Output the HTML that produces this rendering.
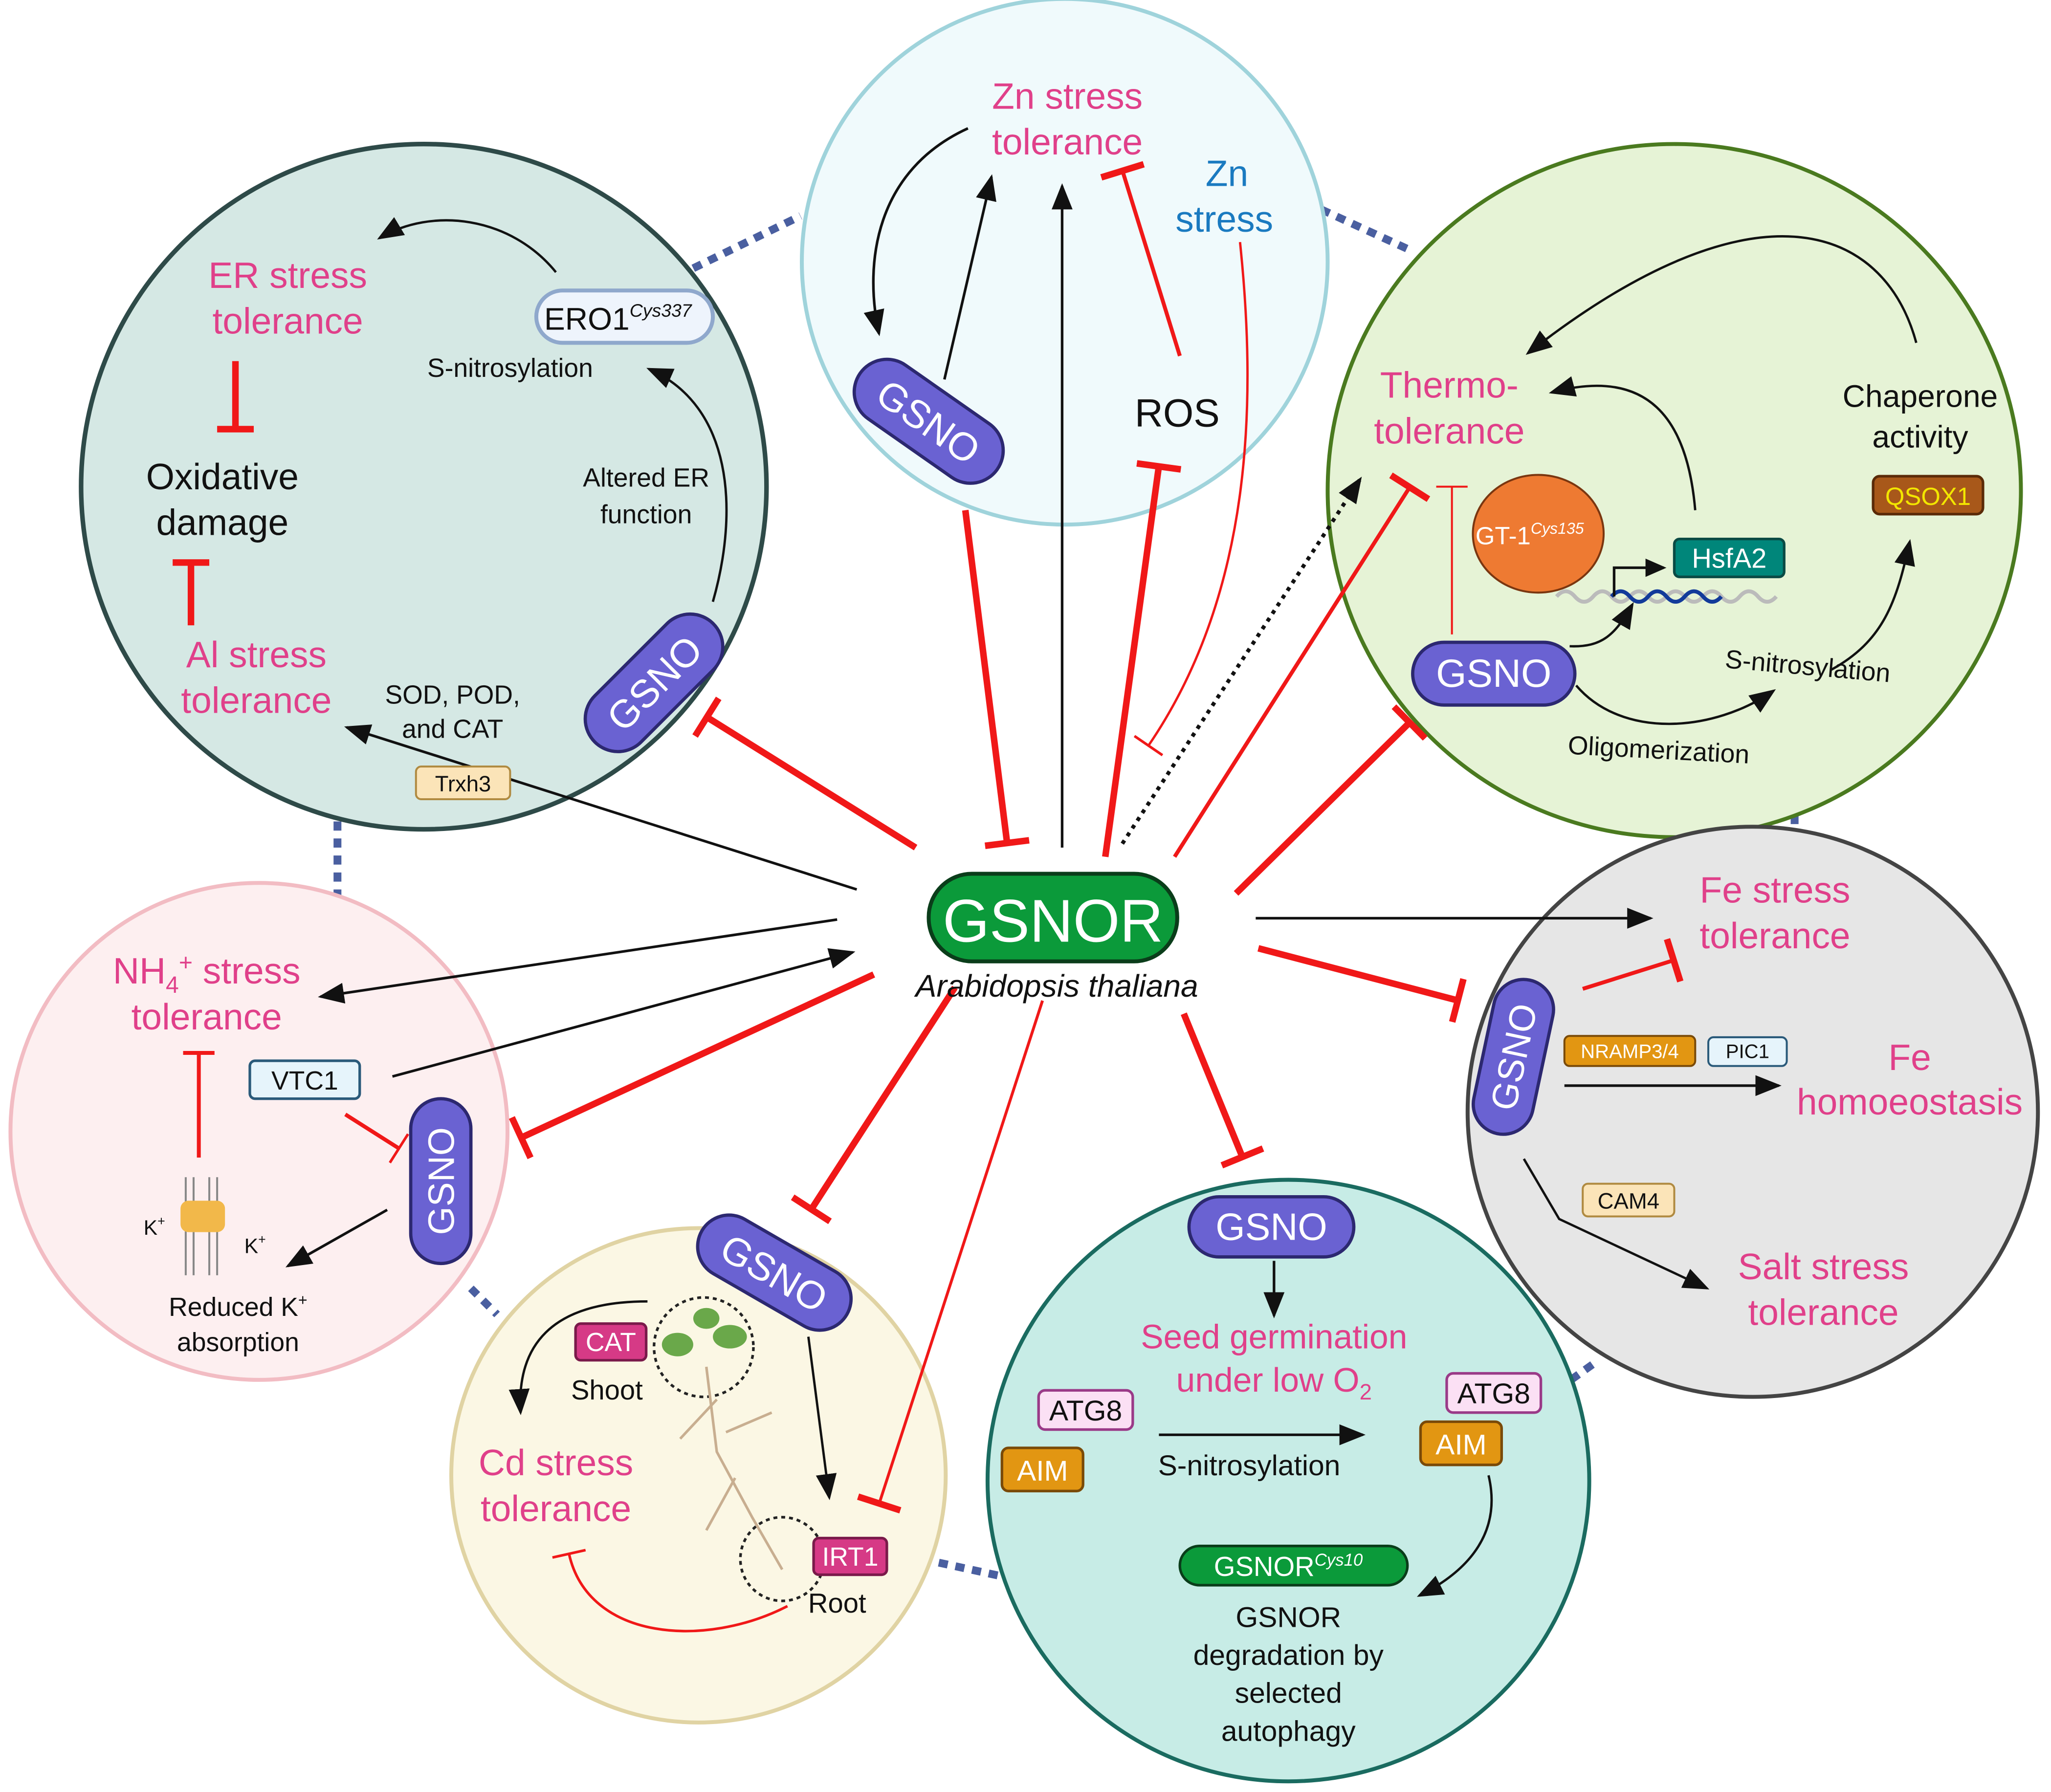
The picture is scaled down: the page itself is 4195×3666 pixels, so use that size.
<!DOCTYPE html>
<html><head><meta charset="utf-8"><style>
html,body{margin:0;padding:0;background:#fff}
svg{display:block}
text{font-family:"Liberation Sans",sans-serif}
.pk{fill:#e0408a}
.bl{fill:#111}
</style></head><body>
<svg width="4195" height="3666" viewBox="0 0 1568 1370" xmlns="http://www.w3.org/2000/svg">
<defs>
<marker id="ar" markerUnits="userSpaceOnUse" markerWidth="24" markerHeight="24" refX="18" refY="10" orient="auto"><path d="M0,2 L20,10 L0,18 Z" fill="#111"/></marker>
<marker id="arS" markerUnits="userSpaceOnUse" markerWidth="20" markerHeight="20" refX="14" refY="8" orient="auto"><path d="M0,1 L16,8 L0,15 Z" fill="#111"/></marker>
<marker id="bar" markerUnits="userSpaceOnUse" markerWidth="10" markerHeight="34" refX="5" refY="17" orient="auto"><rect x="2" y="0" width="5" height="34" fill="#f01818"/></marker>
<marker id="barT" markerUnits="userSpaceOnUse" markerWidth="6" markerHeight="26" refX="3" refY="13" orient="auto"><rect x="2" y="0" width="2" height="26" fill="#f01818"/></marker>
</defs>

<!-- dotted connectors -->
<g stroke="#4a5fa0" stroke-width="6" stroke-dasharray="7,6" fill="none">
<line x1="530" y1="205" x2="612" y2="165"/>
<line x1="1010" y1="160" x2="1080" y2="192"/>
<line x1="258" y1="628" x2="258" y2="686"/>
<line x1="1372" y1="610" x2="1372" y2="632"/>
<line x1="360" y1="985" x2="380" y2="1005"/>
<line x1="1180" y1="1070" x2="1222" y2="1040"/>
<line x1="705" y1="1192" x2="765" y2="1205"/>
</g>

<!-- circles -->
<circle cx="324" cy="372" r="262" fill="#d5e8e4" stroke="#2e4a48" stroke-width="3.5"/>
<circle cx="814" cy="200" r="201" fill="#f0fafc" stroke="#9fd3db" stroke-width="3"/>
<circle cx="1280" cy="375" r="265" fill="#e6f3d6" stroke="#4a7a1f" stroke-width="3"/>
<circle cx="1340" cy="850" r="218" fill="#e6e6e6" stroke="#444" stroke-width="3"/>
<circle cx="985" cy="1132" r="230" fill="#c7ece6" stroke="#1a6b60" stroke-width="3"/>
<circle cx="534" cy="1128" r="189" fill="#fbf7e4" stroke="#e0d3a3" stroke-width="3"/>
<circle cx="198" cy="865" r="190" fill="#fdeff0" stroke="#f2bcc3" stroke-width="3"/>

<!-- central connectors -->
<g fill="none">
<line x1="812" y1="648" x2="812" y2="142" stroke="#111" stroke-width="2" marker-end="url(#ar)"/>
<line x1="738" y1="390" x2="770" y2="645" stroke="#f01818" stroke-width="5" marker-end="url(#bar)"/>
<line x1="845" y1="655" x2="886" y2="356" stroke="#f01818" stroke-width="5" marker-end="url(#bar)"/>
<path d="M948,185 C960,300 960,450 878,570" stroke="#f01818" stroke-width="1.8" marker-end="url(#barT)"/>
<line x1="858" y1="645" x2="1040" y2="366" stroke="#111" stroke-width="3" stroke-dasharray="3,4" marker-end="url(#ar)"/>
<line x1="898" y1="655" x2="1078" y2="372" stroke="#f01818" stroke-width="3" marker-end="url(#bar)"/>
<line x1="945" y1="683" x2="1078" y2="552" stroke="#f01818" stroke-width="5" marker-end="url(#bar)"/>
<line x1="960" y1="702" x2="1262" y2="702" stroke="#111" stroke-width="2" marker-end="url(#ar)"/>
<line x1="962" y1="725" x2="1115" y2="765" stroke="#f01818" stroke-width="5" marker-end="url(#bar)"/>
<line x1="905" y1="775" x2="950" y2="885" stroke="#f01818" stroke-width="5" marker-end="url(#bar)"/>
<line x1="797" y1="765" x2="672" y2="1150" stroke="#f01818" stroke-width="2.2" marker-end="url(#bar)"/>
<line x1="730" y1="755" x2="620" y2="925" stroke="#f01818" stroke-width="5" marker-end="url(#bar)"/>
<line x1="668" y1="745" x2="398" y2="870" stroke="#f01818" stroke-width="5" marker-end="url(#bar)"/>
<line x1="640" y1="703" x2="245" y2="762" stroke="#111" stroke-width="2" marker-end="url(#ar)"/>
<line x1="300" y1="823" x2="652" y2="728" stroke="#111" stroke-width="2" marker-end="url(#ar)"/>
<line x1="655" y1="680" x2="265" y2="556" stroke="#111" stroke-width="2" marker-end="url(#ar)"/>
<line x1="700" y1="648" x2="540" y2="548" stroke="#f01818" stroke-width="5" marker-end="url(#bar)"/>
</g>

<!-- GSNOR center -->
<rect x="710" y="668" width="190" height="67" rx="33" fill="#0b9a3a" stroke="#0a3d1a" stroke-width="3"/>
<text x="805" y="720" font-size="46" fill="#fff" text-anchor="middle">GSNOR</text>
<text x="808" y="762" font-size="24" font-style="italic" fill="#111" text-anchor="middle">Arabidopsis thaliana</text>

<!-- Zn circle -->
<text x="816" y="83" font-size="28" class="pk" text-anchor="middle">Zn stress</text>
<text x="816" y="118" font-size="28" class="pk" text-anchor="middle">tolerance</text>
<text x="938" y="142" font-size="28" fill="#1a7ac0" text-anchor="middle">Zn</text>
<text x="936" y="177" font-size="28" fill="#1a7ac0" text-anchor="middle">stress</text>
<text x="900" y="326" font-size="30" fill="#111" text-anchor="middle">ROS</text>
<path d="M740,98 C670,130 660,200 672,255" fill="none" stroke="#111" stroke-width="2" marker-end="url(#ar)"/>
<line x1="722" y1="290" x2="758" y2="135" stroke="#111" stroke-width="2" marker-end="url(#ar)"/>
<line x1="902" y1="272" x2="858" y2="130" stroke="#f01818" stroke-width="3" marker-end="url(#bar)"/>
<g transform="translate(710,322) rotate(35)"><rect x="-64" y="-25" width="128" height="50" rx="25" fill="#6a62d2" stroke="#2c2870" stroke-width="2.5"/><text x="0" y="11" font-size="30" fill="#fff" text-anchor="middle">GSNO</text></g>

<!-- ER circle -->
<text x="220" y="220" font-size="28" class="pk" text-anchor="middle">ER stress</text>
<text x="220" y="255" font-size="28" class="pk" text-anchor="middle">tolerance</text>
<text x="170" y="374" font-size="28" fill="#111" text-anchor="middle">Oxidative</text>
<text x="170" y="409" font-size="28" fill="#111" text-anchor="middle">damage</text>
<text x="196" y="510" font-size="28" class="pk" text-anchor="middle">Al stress</text>
<text x="196" y="545" font-size="28" class="pk" text-anchor="middle">tolerance</text>
<line x1="180" y1="276" x2="180" y2="328" stroke="#f01818" stroke-width="5"/><line x1="166" y1="328" x2="194" y2="328" stroke="#f01818" stroke-width="5"/>
<line x1="146" y1="478" x2="146" y2="430" stroke="#f01818" stroke-width="5"/><line x1="132" y1="430" x2="160" y2="430" stroke="#f01818" stroke-width="5"/>
<rect x="410" y="222" width="135" height="40" rx="20" fill="#eef4fc" stroke="#8fa8cc" stroke-width="3"/>
<text x="416" y="252" font-size="24" fill="#111">ERO1<tspan font-size="14" font-style="italic" dy="-10">Cys337</tspan></text>
<text x="390" y="288" font-size="20" fill="#111" text-anchor="middle">S-nitrosylation</text>
<text x="494" y="372" font-size="20" fill="#111" text-anchor="middle">Altered ER</text>
<text x="494" y="400" font-size="20" fill="#111" text-anchor="middle">function</text>
<text x="346" y="538" font-size="20" fill="#111" text-anchor="middle">SOD, POD,</text>
<text x="346" y="564" font-size="20" fill="#111" text-anchor="middle">and CAT</text>
<rect x="318" y="586" width="72" height="25" rx="4" fill="#fbe4b8" stroke="#b08a40" stroke-width="1.5"/>
<text x="354" y="605" font-size="17" fill="#111" text-anchor="middle">Trxh3</text>
<path d="M425,208 C390,165 330,158 290,182" fill="none" stroke="#111" stroke-width="1.8" marker-end="url(#ar)"/>
<path d="M545,460 C565,390 560,310 496,282" fill="none" stroke="#111" stroke-width="1.8" marker-end="url(#ar)"/>
<g transform="translate(500,522) rotate(-45)"><rect x="-64" y="-25" width="128" height="50" rx="25" fill="#6a62d2" stroke="#2c2870" stroke-width="2.5"/><text x="0" y="11" font-size="30" fill="#fff" text-anchor="middle">GSNO</text></g>

<!-- Thermo circle -->
<text x="1108" y="304" font-size="28" class="pk" text-anchor="middle">Thermo-</text>
<text x="1108" y="339" font-size="28" class="pk" text-anchor="middle">tolerance</text>
<text x="1468" y="311" font-size="24" fill="#111" text-anchor="middle">Chaperone</text>
<text x="1468" y="342" font-size="24" fill="#111" text-anchor="middle">activity</text>
<rect x="1432" y="364" width="84" height="29" rx="5" fill="#a8581a" stroke="#5a2a08" stroke-width="2"/>
<text x="1474" y="386" font-size="19" fill="#f2e600" text-anchor="middle">QSOX1</text>
<path d="M1465,262 C1440,170 1340,135 1168,270" fill="none" stroke="#111" stroke-width="1.8" marker-end="url(#ar)"/>
<path d="M1296,390 C1290,320 1260,280 1186,300" fill="none" stroke="#111" stroke-width="1.8" marker-end="url(#ar)"/>
<line x1="1110" y1="485" x2="1110" y2="372" stroke="#f01818" stroke-width="1.5"/><line x1="1098" y1="372" x2="1122" y2="372" stroke="#f01818" stroke-width="1.5"/>
<ellipse cx="1176" cy="408" rx="50" ry="45" fill="#ee7a32" stroke="#7a3610" stroke-width="1.5"/>
<text x="1128" y="416" font-size="19" fill="#fff">GT-1<tspan font-size="12" font-style="italic" dy="-8">Cys135</tspan></text>
<rect x="1280" y="412" width="84" height="29" rx="4" fill="#00867a" stroke="#0a4a44" stroke-width="2"/>
<text x="1322" y="434" font-size="21" fill="#fff" text-anchor="middle">HsfA2</text>
<path d="M1190,456 q7,-8 14,0 t14,0 t14,0 t14,0 t14,0 t14,0 t14,0 t14,0 t14,0 t14,0 t14,0 t14,0" fill="none" stroke="#bbb" stroke-width="3"/>
<path d="M1232,456 q7,-8 14,0 t14,0 t14,0 t14,0 t14,0 t14,0" fill="none" stroke="#123a9a" stroke-width="3"/>
<path d="M1234,456 V434 H1272" fill="none" stroke="#111" stroke-width="2" marker-end="url(#arS)"/>
<rect x="1080" y="491" width="124" height="48" rx="24" fill="#6a62d2" stroke="#2c2870" stroke-width="2.5"/>
<text x="1142" y="525" font-size="30" fill="#fff" text-anchor="middle">GSNO</text>
<path d="M1200,494 C1225,495 1235,485 1248,462" fill="none" stroke="#111" stroke-width="1.8" marker-end="url(#ar)"/>
<path d="M1205,524 C1240,565 1310,560 1356,528" fill="none" stroke="#111" stroke-width="1.8" marker-end="url(#ar)"/>
<path d="M1400,512 C1440,490 1450,460 1460,414" fill="none" stroke="#111" stroke-width="1.8" marker-end="url(#ar)"/>
<text x="1382" y="516" font-size="20" fill="#111" text-anchor="middle" transform="rotate(5 1382 510)">S-nitrosylation</text>
<text x="1268" y="580" font-size="20" fill="#111" text-anchor="middle" transform="rotate(3 1268 575)">Oligomerization</text>

<!-- Fe circle -->
<text x="1357" y="690" font-size="28" class="pk" text-anchor="middle">Fe stress</text>
<text x="1357" y="725" font-size="28" class="pk" text-anchor="middle">tolerance</text>
<text x="1460" y="818" font-size="28" class="pk" text-anchor="middle">Fe</text>
<text x="1460" y="852" font-size="28" class="pk" text-anchor="middle">homoeostasis</text>
<text x="1394" y="978" font-size="28" class="pk" text-anchor="middle">Salt stress</text>
<text x="1394" y="1013" font-size="28" class="pk" text-anchor="middle">tolerance</text>
<line x1="1210" y1="756" x2="1280" y2="734" stroke="#f01818" stroke-width="3" marker-end="url(#bar)"/>
<rect x="1196" y="792" width="100" height="23" rx="4" fill="#e29612" stroke="#7a4a08" stroke-width="1.5"/>
<text x="1246" y="809" font-size="15" fill="#fff" text-anchor="middle">NRAMP3/4</text>
<rect x="1306" y="793" width="60" height="22" rx="4" fill="#e6f4fb" stroke="#2a5a7a" stroke-width="1.5"/>
<text x="1336" y="809" font-size="15" fill="#111" text-anchor="middle">PIC1</text>
<line x1="1196" y1="830" x2="1360" y2="830" stroke="#111" stroke-width="2" marker-end="url(#ar)"/>
<rect x="1210" y="905" width="70" height="25" rx="4" fill="#fbe4b8" stroke="#b08a40" stroke-width="1.5"/>
<text x="1245" y="924" font-size="17" fill="#111" text-anchor="middle">CAM4</text>
<path d="M1165,886 L1192,932 L1305,985" fill="none" stroke="#111" stroke-width="1.8" marker-end="url(#ar)"/>
<g transform="translate(1157,808) rotate(-78)"><rect x="-60" y="-23" width="120" height="46" rx="23" fill="#6a62d2" stroke="#2c2870" stroke-width="2.5"/><text x="0" y="10" font-size="28" fill="#fff" text-anchor="middle">GSNO</text></g>

<!-- NH4 circle -->
<text x="158" y="752" font-size="28" class="pk" text-anchor="middle">NH<tspan font-size="18" dy="7">4</tspan><tspan font-size="18" dy="-17">+</tspan><tspan dy="10"> stress</tspan></text>
<text x="158" y="787" font-size="28" class="pk" text-anchor="middle">tolerance</text>
<line x1="152" y1="885" x2="152" y2="805" stroke="#f01818" stroke-width="3"/><line x1="140" y1="805" x2="164" y2="805" stroke="#f01818" stroke-width="3"/>
<rect x="191" y="811" width="84" height="29" rx="4" fill="#e6f4fb" stroke="#2a5a7a" stroke-width="2"/>
<text x="233" y="833" font-size="20" fill="#111" text-anchor="middle">VTC1</text>
<line x1="264" y1="852" x2="305" y2="878" stroke="#f01818" stroke-width="3" marker-end="url(#barT)"/>
<g stroke="#888" stroke-width="1.5"><line x1="142" y1="900" x2="142" y2="975"/><line x1="148" y1="900" x2="148" y2="975"/><line x1="160" y1="900" x2="160" y2="975"/><line x1="166" y1="900" x2="166" y2="975"/></g>
<rect x="138" y="918" width="34" height="24" rx="6" fill="#f2b84a"/>
<text x="118" y="944" font-size="16" fill="#111" text-anchor="middle">K<tspan font-size="10" dy="-7">+</tspan></text>
<text x="195" y="958" font-size="16" fill="#111" text-anchor="middle">K<tspan font-size="10" dy="-7">+</tspan></text>
<text x="182" y="1006" font-size="20" fill="#111" text-anchor="middle">Reduced K<tspan font-size="12" dy="-8">+</tspan></text>
<text x="182" y="1033" font-size="20" fill="#111" text-anchor="middle">absorption</text>
<line x1="296" y1="925" x2="220" y2="968" stroke="#111" stroke-width="2" marker-end="url(#ar)"/>
<g transform="translate(337,903) rotate(-90)"><rect x="-63" y="-23" width="126" height="46" rx="23" fill="#6a62d2" stroke="#2c2870" stroke-width="2.5"/><text x="0" y="10" font-size="28" fill="#fff" text-anchor="middle">GSNO</text></g>

<!-- Cd circle -->
<text x="425" y="1128" font-size="28" class="pk" text-anchor="middle">Cd stress</text>
<text x="425" y="1163" font-size="28" class="pk" text-anchor="middle">tolerance</text>
<rect x="440" y="1012" width="54" height="28" rx="4" fill="#d63a86" stroke="#7a1a4a" stroke-width="2"/>
<text x="467" y="1033" font-size="20" fill="#fff" text-anchor="middle">CAT</text>
<text x="464" y="1070" font-size="21" fill="#111" text-anchor="middle">Shoot</text>
<circle cx="538" cy="1030" r="38" fill="none" stroke="#222" stroke-width="2" stroke-dasharray="3,3"/>
<circle cx="598" cy="1192" r="32" fill="none" stroke="#222" stroke-width="2" stroke-dasharray="3,3"/>
<g stroke="#c8ae90" stroke-width="2" fill="none"><path d="M540,1045 L548,1110 L575,1160 L598,1200"/><path d="M548,1070 L520,1100"/><path d="M555,1095 L590,1080"/><path d="M562,1130 L540,1170"/></g>
<g fill="#6aa84a"><ellipse cx="518" cy="1028" rx="12" ry="9"/><ellipse cx="558" cy="1022" rx="13" ry="9"/><ellipse cx="540" cy="1008" rx="10" ry="8"/></g>
<rect x="622" y="1176" width="56" height="28" rx="4" fill="#d63a86" stroke="#7a1a4a" stroke-width="2"/>
<text x="650" y="1197" font-size="20" fill="#fff" text-anchor="middle">IRT1</text>
<text x="640" y="1233" font-size="21" fill="#111" text-anchor="middle">Root</text>
<path d="M495,995 C420,995 395,1030 398,1080" fill="none" stroke="#111" stroke-width="1.8" marker-end="url(#ar)"/>
<line x1="618" y1="1022" x2="634" y2="1145" stroke="#111" stroke-width="1.8" marker-end="url(#ar)"/>
<path d="M602,1228 C540,1260 450,1255 435,1188" fill="none" stroke="#f01818" stroke-width="2" marker-end="url(#barT)"/>
<g transform="translate(592,973) rotate(30)"><rect x="-64" y="-24" width="128" height="48" rx="24" fill="#6a62d2" stroke="#2c2870" stroke-width="2.5"/><text x="0" y="11" font-size="30" fill="#fff" text-anchor="middle">GSNO</text></g>

<!-- bottom circle -->
<rect x="909" y="915" width="126" height="46" rx="23" fill="#6a62d2" stroke="#2c2870" stroke-width="2.5"/>
<text x="972" y="948" font-size="29" fill="#fff" text-anchor="middle">GSNO</text>
<line x1="974" y1="964" x2="974" y2="1006" stroke="#111" stroke-width="2" marker-end="url(#ar)"/>
<text x="974" y="1031" font-size="26" class="pk" text-anchor="middle">Seed germination</text>
<text x="974" y="1064" font-size="26" class="pk" text-anchor="middle">under low O<tspan font-size="17" dy="6">2</tspan></text>
<rect x="794" y="1063" width="72" height="30" rx="5" fill="#fbe0f4" stroke="#9a3a88" stroke-width="2"/>
<text x="830" y="1086" font-size="22" fill="#111" text-anchor="middle">ATG8</text>
<rect x="766" y="1107" width="62" height="33" rx="5" fill="#e29612" stroke="#7a4a08" stroke-width="2"/>
<text x="797" y="1132" font-size="22" fill="#fff" text-anchor="middle">AIM</text>
<line x1="886" y1="1097" x2="1042" y2="1097" stroke="#111" stroke-width="2" marker-end="url(#ar)"/>
<text x="955" y="1128" font-size="22" fill="#111" text-anchor="middle">S-nitrosylation</text>
<rect x="1106" y="1050" width="72" height="30" rx="5" fill="#fbe0f4" stroke="#9a3a88" stroke-width="2"/>
<text x="1142" y="1073" font-size="22" fill="#111" text-anchor="middle">ATG8</text>
<rect x="1086" y="1087" width="62" height="33" rx="5" fill="#e29612" stroke="#7a4a08" stroke-width="2"/>
<text x="1117" y="1112" font-size="22" fill="#fff" text-anchor="middle">AIM</text>
<path d="M1138,1128 C1148,1170 1125,1200 1085,1220" fill="none" stroke="#111" stroke-width="1.8" marker-end="url(#ar)"/>
<rect x="902" y="1182" width="174" height="30" rx="15" fill="#0b9a3a" stroke="#0a3d1a" stroke-width="2"/>
<text x="928" y="1205" font-size="21" fill="#fff">GSNOR<tspan font-size="13" font-style="italic" dy="-8">Cys10</tspan></text>
<text x="985" y="1244" font-size="22" fill="#111" text-anchor="middle">GSNOR</text>
<text x="985" y="1273" font-size="22" fill="#111" text-anchor="middle">degradation by</text>
<text x="985" y="1302" font-size="22" fill="#111" text-anchor="middle">selected</text>
<text x="985" y="1331" font-size="22" fill="#111" text-anchor="middle">autophagy</text>
</svg>
</body></html>
